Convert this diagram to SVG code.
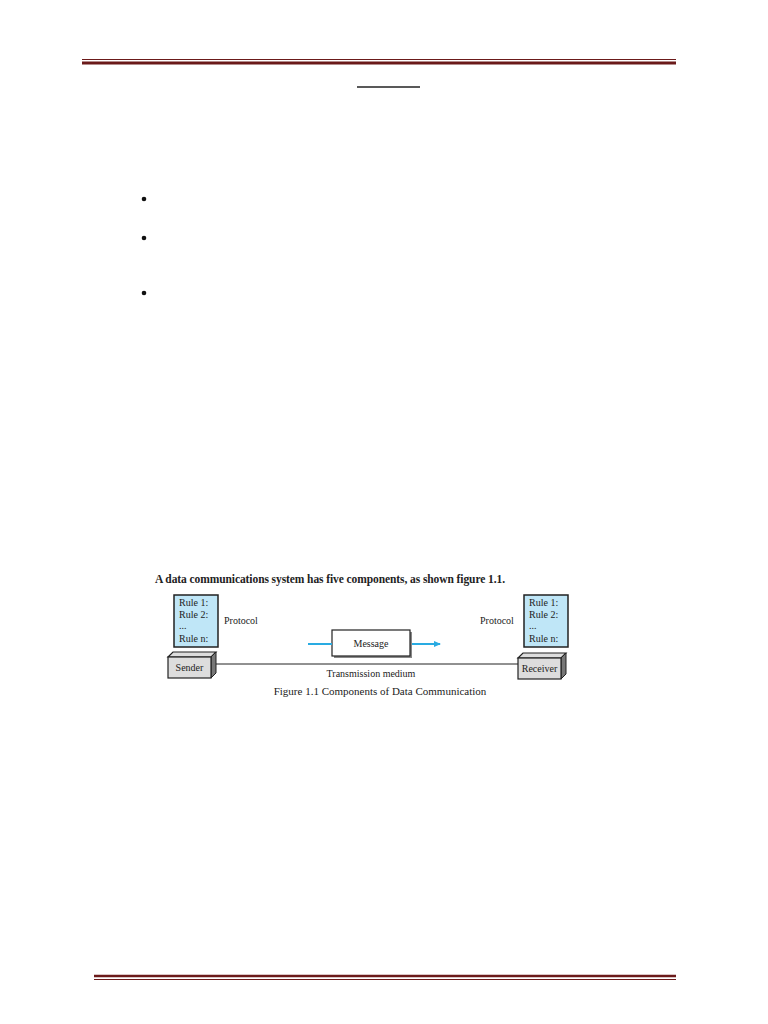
<svg xmlns="http://www.w3.org/2000/svg" width="768" height="1024" viewBox="0 0 768 1024">
<defs>
<style>
.t{font-family:"Liberation Serif",serif;fill:#222}
.r{fill:#bfe6f7;stroke:#222;stroke-width:1.5}
.f{fill:#ddd;stroke:#222;stroke-width:1.2}
.s{fill:#777;stroke:#222;stroke-width:1}
.cy{stroke:#29abe2;stroke-width:2}
</style>
<marker id="ah" markerWidth="8" markerHeight="8" refX="6" refY="4" orient="auto" markerUnits="userSpaceOnUse"><path d="M0,1 L7,4 L0,7 Z" fill="#29abe2"/></marker>
</defs>
<rect width="768" height="1024" fill="#fff"/>
<g id="header">
<line x1="82" y1="59.5" x2="676" y2="59.5" stroke="#6b1a1a" stroke-width="1"/>
<line x1="82" y1="63" x2="676" y2="63" stroke="#6b1a1a" stroke-width="3"/>
<line x1="357" y1="87" x2="420" y2="87" stroke="#222" stroke-width="1.5"/>
</g>
<g id="bullets" fill="#111">
<circle cx="144" cy="199" r="2.3"/>
<circle cx="144" cy="238" r="2.3"/>
<circle cx="144" cy="293" r="2.3"/>
</g>
<text class="t" x="155" y="583" font-size="11.5" font-weight="bold" textLength="350">A data communications system has five components, as shown figure 1.1.</text>
<g id="sender-protocol">
<rect class="r" x="174" y="595" width="44" height="52"/>
<text class="t" x="179" y="606" font-size="10">Rule 1:</text>
<text class="t" x="179" y="618" font-size="10">Rule 2:</text>
<text class="t" x="179" y="629" font-size="10">...</text>
<text class="t" x="179" y="642" font-size="10">Rule n:</text>
<text class="t" x="224" y="624" font-size="10">Protocol</text>
</g>
<g id="receiver-protocol">
<rect class="r" x="524" y="595" width="44" height="52"/>
<text class="t" x="529" y="606" font-size="10">Rule 1:</text>
<text class="t" x="529" y="618" font-size="10">Rule 2:</text>
<text class="t" x="529" y="629" font-size="10">...</text>
<text class="t" x="529" y="642" font-size="10">Rule n:</text>
<text class="t" x="480" y="624" font-size="10">Protocol</text>
</g>
<g id="sender">
<path class="f" d="M168,657 L173,652 L216,652 L211,657 Z"/>
<path class="s" d="M211,657 L216,652 L216,673 L211,678 Z"/>
<rect class="f" x="168" y="657" width="43" height="21"/>
<text class="t" x="189.5" y="671" font-size="10" text-anchor="middle">Sender</text>
</g>
<g id="receiver">
<path class="f" d="M518,658 L523,653 L566,653 L561,658 Z"/>
<path class="s" d="M561,658 L566,653 L566,674 L561,679 Z"/>
<rect class="f" x="518" y="658" width="43" height="21"/>
<text class="t" x="539.5" y="672" font-size="10" text-anchor="middle">Receiver</text>
</g>
<g id="message">
<rect x="334" y="632" width="78" height="26" fill="#888"/>
<rect x="332" y="630" width="78" height="26" fill="#fff" stroke="#222" stroke-width="1.2"/>
<text class="t" x="371" y="647" font-size="10" text-anchor="middle">Message</text>
</g>
<g id="connectors">
<line class="cy" x1="308" y1="644" x2="332" y2="644"/>
<line class="cy" x1="412" y1="644" x2="440" y2="644" marker-end="url(#ah)"/>
<line x1="216" y1="664" x2="518" y2="664" stroke="#222" stroke-width="1"/>
</g>
<text class="t" x="371" y="677" font-size="10" text-anchor="middle">Transmission medium</text>
<text class="t" x="380" y="695" font-size="11" text-anchor="middle">Figure 1.1 Components of Data Communication</text>
<g id="footer">
<line x1="94" y1="976" x2="676" y2="976" stroke="#6b1a1a" stroke-width="2.5"/>
<line x1="94" y1="979.5" x2="676" y2="979.5" stroke="#6b1a1a" stroke-width="1"/>
</g>
</svg>
